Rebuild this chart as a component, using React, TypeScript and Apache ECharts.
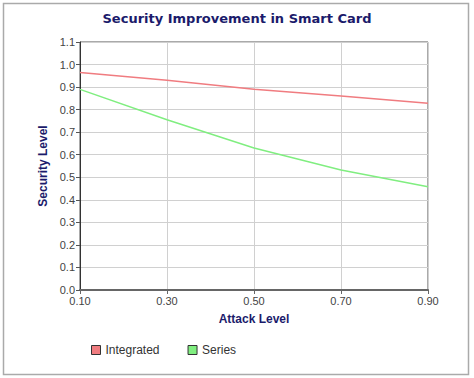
import React, { useEffect, useRef } from "react";
import * as echarts from "echarts";

const attackLevels = ["0.10", "0.30", "0.50", "0.70", "0.90"];
const integratedValues = [0.965, 0.93, 0.89, 0.86, 0.828];
const seriesValues = [0.89, 0.755, 0.63, 0.532, 0.458];
const seriesNames = ["Integrated", "Series"];

export default function App() {
  const ref = useRef<HTMLDivElement>(null);
  useEffect(() => {
    const chart = echarts.init(ref.current!, null, { renderer: "svg" });
    const navy = "#1b1b6b";
    const font = "Liberation Sans";
    chart.setOption({
      animation: false,
      backgroundColor: "#ffffff",
      graphic: [
        {
          type: "rect",
          shape: { x: 3.5, y: 3.5, width: 465, height: 371 },
          style: { fill: "none", stroke: "#aaaaaa", lineWidth: 1.5 },
          silent: true,
        },
      ],
      title: {
        text: "Security Improvement in Smart Card",
        left: "center",
        top: 7,
        textStyle: { fontFamily: "DejaVu Sans", fontSize: 13, fontWeight: "bold", color: navy },
      },
      grid: {
        left: 80,
        right: 46,
        top: 42,
        bottom: 88,
        show: true,
        borderColor: "#555555",
        borderWidth: 1,
        backgroundColor: "#ffffff",
      },
      legend: {
        left: 86,
        top: 339,
        itemWidth: 9,
        itemHeight: 9,
        itemGap: 28,
        icon: "rect",
        textStyle: { fontFamily: font, fontSize: 12, color: "#333" },
        data: [
          { name: seriesNames[0], itemStyle: { color: "#f07c80", borderColor: "#333", borderWidth: 1 } },
          { name: seriesNames[1], itemStyle: { color: "#80ee80", borderColor: "#333", borderWidth: 1 } },
        ],
      },
      xAxis: {
        type: "category",
        data: attackLevels,
        boundaryGap: false,
        name: "Attack Level",
        nameLocation: "middle",
        nameGap: 23,
        nameTextStyle: { fontFamily: font, fontSize: 12, fontWeight: "bold", color: navy },
        axisLine: { show: true, lineStyle: { color: "#666", width: 2 } },
        axisTick: { show: true, alignWithLabel: true, length: 4, lineStyle: { color: "#666" } },
        axisLabel: { fontFamily: font, fontSize: 11, color: "#444", margin: 5 },
        splitLine: { show: true, lineStyle: { color: "#d0d0d0", width: 1 } },
      },
      yAxis: {
        type: "value",
        min: 0,
        max: 1.1,
        interval: 0.1,
        name: "Security Level",
        nameLocation: "middle",
        nameGap: 25,
        nameTextStyle: { fontFamily: font, fontSize: 12, fontWeight: "bold", color: navy },
        axisLine: { show: true, lineStyle: { color: "#333", width: 1 } },
        axisTick: { show: true, length: 4, lineStyle: { color: "#555" } },
        axisLabel: {
          fontFamily: font,
          fontSize: 11,
          color: "#444",
          margin: 5,
          formatter: (v: number) => v.toFixed(1),
        },
        splitLine: { show: true, lineStyle: { color: "#d0d0d0", width: 1 } },
      },
      series: [
        {
          name: seriesNames[0],
          type: "line",
          data: integratedValues,
          showSymbol: false,
          symbol: "none",
          itemStyle: { color: "#f07c80" },
          lineStyle: { color: "#f07c80", width: 1.5 },
        },
        {
          name: seriesNames[1],
          type: "line",
          data: seriesValues,
          showSymbol: false,
          symbol: "none",
          itemStyle: { color: "#80ee80" },
          lineStyle: { color: "#80ee80", width: 1.5 },
        },
      ],
    });
    return () => chart.dispose();
  }, []);
  return (
    <div
      ref={ref}
      style={{ position: "fixed", left: 0, top: 0, width: 474, height: 378 }}
    />
  );
}
